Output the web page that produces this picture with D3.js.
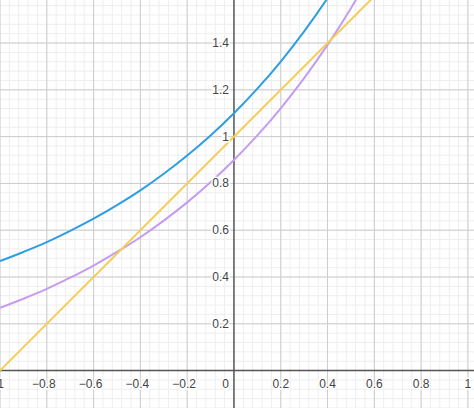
<!DOCTYPE html>
<html>
<head>
<meta charset="utf-8">
<script src="https://cdn.jsdelivr.net/npm/d3@7"></script>
<style>
  body { margin: 0; background: #fff; }
  svg { display: block; }
  .tick-label { font-family: "Liberation Sans", Arial, sans-serif; font-size: 12px; fill: #444;
    paint-order: stroke; stroke: #fff; stroke-width: 3px; }
</style>
</head>
<body>
<div id="chart"></div>
<script>
// sample points
var xs = [-1, -0.9, -0.8, -0.7, -0.6, -0.5, -0.4, -0.3, -0.2, -0.1, 0, 0.1, 0.2, 0.3, 0.4, 0.5, 0.6];
var blue = [0.468, 0.507, 0.549, 0.597, 0.649, 0.707, 0.770, 0.841, 0.919, 1.005, 1.100, 1.205, 1.321, 1.450, 1.592, 1.749, 1.922];
var purple = [0.268, 0.307, 0.349, 0.397, 0.449, 0.507, 0.570, 0.641, 0.719, 0.805, 0.900, 1.005, 1.121, 1.250, 1.392, 1.549, 1.722];
var yellowX = [-1, 0.6];
var yellow = [0, 1.6];
var xTicks = [-1, -0.8, -0.6, -0.4, -0.2, 0.2, 0.4, 0.6, 0.8, 1];
var yTicks = [0.2, 0.4, 0.6, 0.8, 1, 1.2, 1.4];

var width = 474, height = 408;

var svg = d3.select("#chart")
    .append("svg")
    .attr("width", width)
    .attr("height", height);

var x = d3.scaleLinear().domain([-1, 1.026]).range([0, width]);
var y = d3.scaleLinear().domain([-0.16, 1.584]).range([height, 0]);

// minor grid
var minorX = d3.range(-1.0, 1.05, 0.04), minorY = d3.range(-0.16, 1.6, 0.04);
svg.append("g").selectAll("line")
    .data(minorX).enter().append("line")
    .attr("x1", function(d) { return x(d); }).attr("x2", function(d) { return x(d); })
    .attr("y1", 0).attr("y2", height)
    .attr("stroke", "#eeeeee").attr("stroke-width", 1);
svg.append("g").selectAll("line")
    .data(minorY).enter().append("line")
    .attr("y1", function(d) { return y(d); }).attr("y2", function(d) { return y(d); })
    .attr("x1", 0).attr("x2", width)
    .attr("stroke", "#eeeeee").attr("stroke-width", 1);

// major grid
svg.append("g").selectAll("line")
    .data(xTicks).enter().append("line")
    .attr("x1", function(d) { return x(d); }).attr("x2", function(d) { return x(d); })
    .attr("y1", 0).attr("y2", height)
    .attr("stroke", "#cccccc").attr("stroke-width", 1);
svg.append("g").selectAll("line")
    .data(yTicks).enter().append("line")
    .attr("y1", function(d) { return y(d); }).attr("y2", function(d) { return y(d); })
    .attr("x1", 0).attr("x2", width)
    .attr("stroke", "#cccccc").attr("stroke-width", 1);

// axes
svg.append("line")
    .attr("x1", 0).attr("x2", width)
    .attr("y1", y(0)).attr("y2", y(0))
    .attr("stroke", "#555").attr("stroke-width", 1.5);
svg.append("line")
    .attr("x1", x(0)).attr("x2", x(0))
    .attr("y1", 0).attr("y2", height)
    .attr("stroke", "#555").attr("stroke-width", 1.5);

// curves
var line = d3.line()
    .x(function(d) { return x(d[0]); })
    .y(function(d) { return y(d[1]); })
    .curve(d3.curveMonotoneX);

svg.append("path")
    .datum(d3.zip(xs, purple))
    .attr("d", line)
    .attr("fill", "none").attr("stroke", "#c59cf0").attr("stroke-width", 2);
svg.append("path")
    .datum(d3.zip(yellowX, yellow))
    .attr("d", line)
    .attr("fill", "none").attr("stroke", "#f5cc55").attr("stroke-width", 2);
svg.append("path")
    .datum(d3.zip(xs, blue))
    .attr("d", line)
    .attr("fill", "none").attr("stroke", "#2e9ee2").attr("stroke-width", 2);

// labels
var fmt = function(d) { return String(d).replace("-", "\u2212"); };
svg.append("g").selectAll("text")
    .data(xTicks).enter().append("text")
    .attr("class", "tick-label")
    .attr("x", function(d) { return x(d) + (d < 0 ? -3 : 0); })
    .attr("y", y(0) + 17)
    .attr("text-anchor", "middle")
    .text(fmt);
svg.append("g").selectAll("text")
    .data(yTicks).enter().append("text")
    .attr("class", "tick-label")
    .attr("x", x(0) - 5)
    .attr("y", function(d) { return y(d) + 4; })
    .attr("text-anchor", "end")
    .text(fmt);
svg.append("text")
    .attr("class", "tick-label")
    .attr("x", x(0) - 5)
    .attr("y", y(0) + 17)
    .attr("text-anchor", "end")
    .text("0");
</script>
</body>
</html>
